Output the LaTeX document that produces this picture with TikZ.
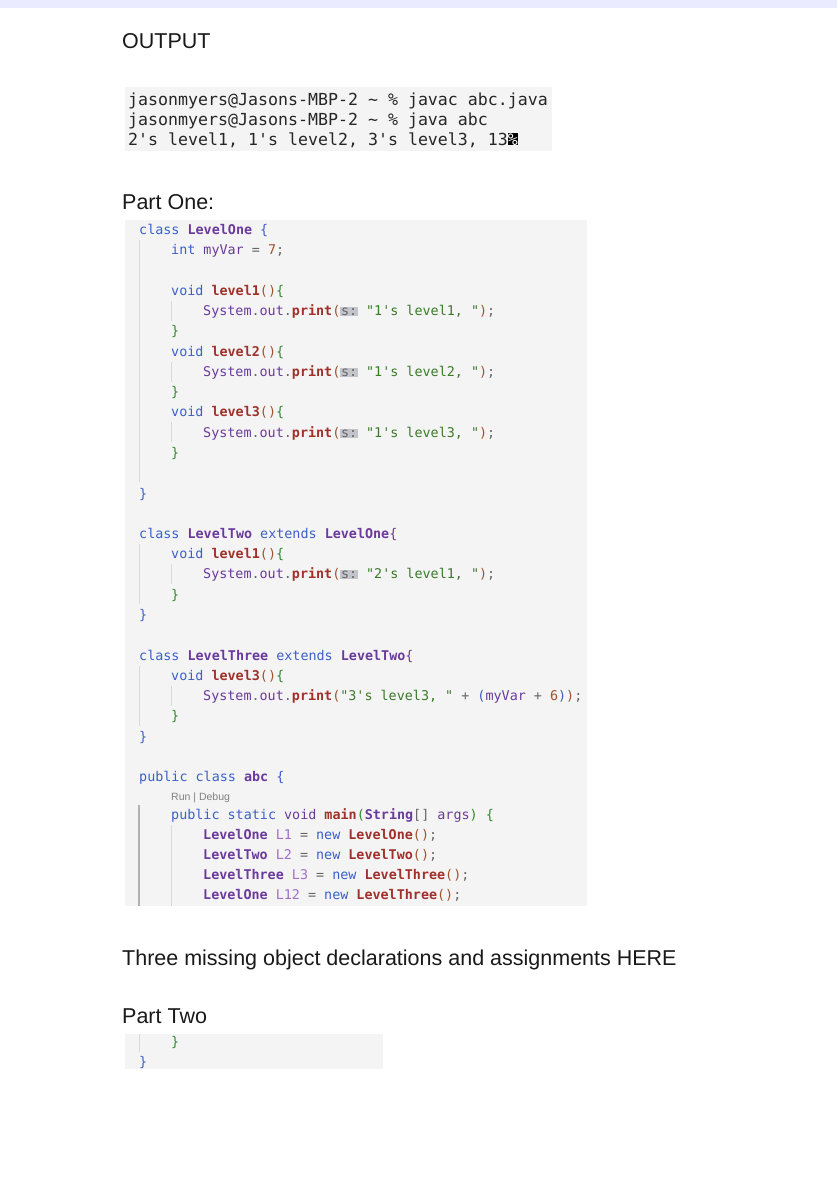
\documentclass[tikz,border=0pt]{standalone}
\usepackage{fontspec}
\setmainfont{Liberation Sans}
\newfontfamily\cfont{DejaVu Sans Mono}
\newfontfamily\uifont{Liberation Sans}
\definecolor{kw}{HTML}{3D5FC8}
\definecolor{cls}{HTML}{6A3A9C}
\definecolor{mth}{HTML}{A0302A}
\definecolor{str}{HTML}{3A7A2A}
\definecolor{num}{HTML}{A0522D}
\definecolor{pl}{HTML}{666666}
\definecolor{grn}{HTML}{2E8B2E}
\definecolor{hintbg}{HTML}{C4C4CC}
\definecolor{codebg}{HTML}{F4F4F4}
\definecolor{varc}{HTML}{A070C8}
\newcommand\ap{\char"27\relax}
\newcommand\xK[1]{\textcolor{kw}{#1}}
\newcommand\xC[1]{\textcolor{cls}{\bfseries #1}}
\newcommand\xM[1]{\textcolor{mth}{\bfseries #1}}
\newcommand\xS[1]{\textcolor{str}{#1}}
\newcommand\xN[1]{\textcolor{num}{#1}}
\newcommand\xP[1]{\textcolor{pl}{#1}}
\newcommand\xG[1]{\textcolor{grn}{#1}}
\newcommand\xV[1]{\textcolor{varc}{#1}}
\newcommand\hintS{{\setlength\fboxsep{0.8pt}\colorbox{hintbg}{\textcolor{pl}{s:}}}}
\newcommand\sysout{\textcolor{cls}{System}\xP{.}\textcolor{cls}{out}\xP{.}\xM{print}\xN{(}}
\tikzset{
  code/.style={anchor=base west,inner sep=0,font=\cfont\fontsize{13.4}{16}\selectfont},
  term/.style={anchor=base west,inner sep=0,font=\cfont\fontsize{16.6}{20}\selectfont,text=black!85},
  head/.style={anchor=base west,inner sep=0,font=\fontsize{21.5}{26}\selectfont,text=black!90},
  guide/.style={draw=black!15,line width=1pt}
}
\begin{document}
\begin{tikzpicture}[x=1pt,y=-1pt]
\useasboundingbox (0,0) rectangle (837,1203);
\fill[white] (0,0) rectangle (837,1203);
\fill[blue!8!white] (0,0) rectangle (837,8);
% headings
\node[head] (h1) at (122,48) {OUTPUT};
\node[head] (h2) at (122,209) {Part One:};
\node[head] (h3) at (122,965) {Three missing object declarations and assignments HERE};
\node[head] (h4) at (122,1023) {Part Two};
% terminal
\fill[codebg] (125,87) rectangle (552,151);
\node[term] (t1) at (128,105) {jasonmyers@Jasons-MBP-2 \textasciitilde{} \% javac abc.java};
\node[term] (t2) at (128,125) {jasonmyers@Jasons-MBP-2 \textasciitilde{} \% java abc};
\node[term] (t3) at (128,145) {2\ap{}s level1, 1\ap{}s level2, 3\ap{}s level3, 13{\setlength\fboxsep{0pt}\colorbox{black}{\textcolor{white}{\%}}}};
% code box
\fill[codebg] (125,220) rectangle (587,906);
\draw[guide] (139,240) -- (139,482);
\draw[guide] (171,301) -- (171,321) (171,362) -- (171,382) (171,422) -- (171,442);
\draw[guide] (139,544) -- (139,604);
\draw[guide] (171,564) -- (171,584);
\draw[guide] (139,666) -- (139,726);
\draw[guide] (171,686) -- (171,706);
\draw[black!30,line width=1.5pt] (139,805) -- (139,906);
\draw[guide] (171,825) -- (171,906);
\node[code] (c1) at (139,234) {\xK{class} \xC{LevelOne} \xK{\{}};
\node[code] (c2) at (171,254) {\xK{int} \textcolor{cls}{myVar} \xP{=} \xN{7}\xP{;}};
\node[code] (c3) at (171,295) {\xK{void} \xM{level1}\xN{()}\xG{\{}};
\node[code] (c4) at (203,315) {\sysout\hintS{} \xS{"1\ap{}s level1, "}\xN{)}\xP{;}};
\node[code] (c5) at (171,335) {\xG{\}}};
\node[code] (c6) at (171,356) {\xK{void} \xM{level2}\xN{()}\xG{\{}};
\node[code] (c7) at (203,376) {\sysout\hintS{} \xS{"1\ap{}s level2, "}\xN{)}\xP{;}};
\node[code] (c8) at (171,396) {\xG{\}}};
\node[code] (c9) at (171,416) {\xK{void} \xM{level3}\xN{()}\xG{\{}};
\node[code] (c10) at (203,437) {\sysout\hintS{} \xS{"1\ap{}s level3, "}\xN{)}\xP{;}};
\node[code] (c11) at (171,457) {\xG{\}}};
\node[code] (c12) at (139,498) {\xK{\}}};
\node[code] (c13) at (139,538) {\xK{class} \xC{LevelTwo} \xK{extends} \xC{LevelOne}\textcolor{cls}{\{}};
\node[code] (c14) at (171,558) {\xK{void} \xM{level1}\xN{()}\xG{\{}};
\node[code] (c15) at (203,578) {\sysout\hintS{} \xS{"2\ap{}s level1, "}\xN{)}\xP{;}};
\node[code] (c16) at (171,599) {\xG{\}}};
\node[code] (c17) at (139,619) {\xK{\}}};
\node[code] (c18) at (139,660) {\xK{class} \xC{LevelThree} \xK{extends} \xC{LevelTwo}\textcolor{cls}{\{}};
\node[code] (c19) at (171,680) {\xK{void} \xM{level3}\xN{()}\xG{\{}};
\node[code] (c20) at (203,700) {\sysout\xS{"3\ap{}s level3, "} \xP{+} \xK{(}\textcolor{cls}{myVar} \xP{+} \xN{6}\xK{)}\xN{)}\xP{;}};
\node[code] (c21) at (171,720) {\xG{\}}};
\node[code] (c22) at (139,741) {\xK{\}}};
\node[code] (c23) at (139,781) {\xK{public} \xK{class} \xC{abc} \xK{\{}};
\node[anchor=base west,inner sep=0,font=\uifont\fontsize{10.5}{12}\selectfont,text=black!50] (c24) at (171,800) {Run | Debug};
\node[code] (c25) at (171,819) {\xK{public} \xK{static} \textcolor{cls}{void} \xM{main}\xG{(}\xC{String}\xP{[]} \textcolor{cls}{args}\xG{)} \xG{\{}};
\node[code] (c26) at (203,839) {\xC{LevelOne} \xV{L1} \xP{=} \xK{new} \xM{LevelOne}\xN{()}\xP{;}};
\node[code] (c27) at (203,859) {\xC{LevelTwo} \xV{L2} \xP{=} \xK{new} \xM{LevelTwo}\xN{()}\xP{;}};
\node[code] (c28) at (203,879) {\xC{LevelThree} \xV{L3} \xP{=} \xK{new} \xM{LevelThree}\xN{()}\xP{;}};
\node[code] (c29) at (203,899) {\xC{LevelOne} \xV{L12} \xP{=} \xK{new} \xM{LevelThree}\xN{()}\xP{;}};
% part two
\fill[codebg] (125,1034) rectangle (383,1069);
\draw[guide] (139,1034) -- (139,1052);
\node[code] (p1) at (171,1046) {\xG{\}}};
\node[code] (p2) at (139,1066) {\xK{\}}};
\end{tikzpicture}
\end{document}
